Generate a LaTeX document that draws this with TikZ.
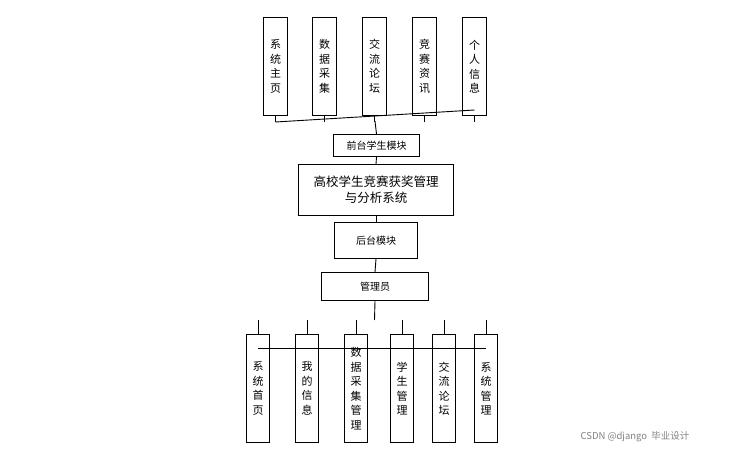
\documentclass[tikz,border=0pt]{standalone}
\usepackage{fontspec}
\setmainfont{Noto Sans CJK SC}
\begin{document}
\begin{tikzpicture}[x=1pt,y=-1pt,
 bx/.style={draw,line width=1pt,inner sep=0pt,anchor=north west},
 ln/.style={line width=0.9pt},
 vt/.style={font=\fontsize{11}{14.5}\selectfont,align=center}]
\useasboundingbox (0,0) rectangle (735,452);
% top boxes
\foreach \x/\t [count=\i] in {263/系\\统\\主\\页,312/数\\据\\采\\集,362/交\\流\\论\\坛,412/竞\\赛\\资\\讯,462/个\\人\\信\\息}{
 \node[bx,minimum width=24pt,minimum height=98pt] (t\i) at (\x,17) {};
 \node[vt] at (t\i.center) {\t};
 \draw[ln] (t\i.south) -- ++(0,6);
}
\coordinate (tb) at (375,121);
\draw[ln] (t1.south) ++(0,6) -- ([yshift=6pt]t5.south);
\node[bx,minimum width=86pt,minimum height=22pt,font=\fontsize{10}{12}\selectfont] (f) at (333,134) {前台学生模块};
\draw[ln] (tb) -- (f.north);
\node[bx,minimum width=155pt,minimum height=51pt,align=center,font=\fontsize{12.5}{16}\selectfont] (m) at (298,164) {高校学生竞赛获奖管理\\与分析系统};
\draw[ln] (f.south) -- (m.north);
\node[bx,minimum width=83pt,minimum height=36pt,font=\fontsize{10}{12}\selectfont] (h) at (334,222) {后台模块};
\draw[ln] (m.south) -- (h.north);
\node[bx,minimum width=107pt,minimum height=28pt,font=\fontsize{10}{12}\selectfont] (g) at (321,272) {管理员};
\draw[ln] (h.south) -- (g.north);
\coordinate (bb) at (374.5,320);
\draw[ln] (g.south) -- (bb);
\foreach \x/\t [count=\i] in {246/系\\统\\首\\页,295/我\\的\\信\\息,344/数\\据\\采\\集\\管\\理,390/学\\生\\管\\理,432/交\\流\\论\\坛,474/系\\统\\管\\理}{
 \node[bx,minimum width=23pt,minimum height=108pt] (b\i) at (\x,334) {};
 \node[vt] at (b\i.center) {\t};
 \draw[ln] (b\i.north) -- ++(0,-14);
}
\draw[ln] ([yshift=-14pt]b1.north) -- ([yshift=-14pt]b6.north);
\node[anchor=west,text=gray,font=\fontsize{9.5}{11}\selectfont] (w) at (577,437) {CSDN @django\ \ 毕业设计};
\end{tikzpicture}
\end{document}
